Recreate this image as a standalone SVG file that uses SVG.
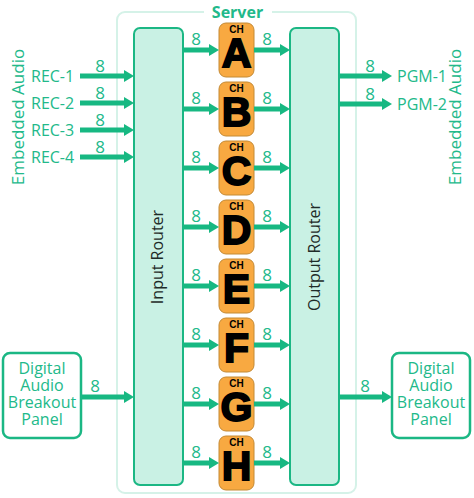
<svg xmlns="http://www.w3.org/2000/svg" width="474" height="498" viewBox="0 0 474 498">
<defs>
<marker id="ah" viewBox="0 0 10 12" refX="0" refY="6" markerWidth="10" markerHeight="12" markerUnits="userSpaceOnUse" orient="auto">
<path d="M0,0 L10,6 L0,12 z" fill="#17b882"/>
</marker>
<style>
.t{font-family:"Open Sans","Noto Sans",sans-serif;fill:#22b98a;}
.n{font-size:17px;text-anchor:middle;}
.lbl{font-size:16px;}
.rl{font-family:"Open Sans","Noto Sans",sans-serif;font-size:16px;text-anchor:middle;fill:#1e2b28;}
.router{fill:#c9f1e4;stroke:#1bb784;stroke-width:2;}
.panel{fill:#fff;stroke:#1bb784;stroke-width:2.5;}
.ch{fill:#f8a941;stroke:#c48a35;stroke-width:1;}
.chs{font-family:"Liberation Sans",Arial,sans-serif;font-weight:bold;font-size:10px;text-anchor:middle;fill:#000;}
.chl{font-family:"Liberation Sans",Arial,sans-serif;font-weight:bold;font-size:41px;text-anchor:middle;fill:#000;stroke:#000;stroke-width:1.8;}
.ar{stroke:#17b882;stroke-width:5;fill:none;marker-end:url(#ah);}
</style>
</defs>
<rect width="474" height="498" fill="#fff"/>
<g id="server">
<rect x="117" y="12" width="239" height="481" rx="8" fill="none" stroke="#d5f2e8" stroke-width="2"/>
<rect x="204" y="4" width="68" height="16" fill="#fff"/>
<text x="237.5" y="18" class="t" style="font-size:16px;font-weight:bold;text-anchor:middle">Server</text>
</g>
<g id="input-router">
<rect x="134" y="28" width="49" height="457" rx="6" class="router"/>
<text class="rl" transform="translate(163,257) rotate(-90)">Input Router</text>
</g>
<g id="output-router">
<rect x="290" y="28" width="49" height="457" rx="6" class="router"/>
<text class="rl" transform="translate(320,257) rotate(-90)">Output Router</text>
</g>
<g id="ch-a"><rect x="219" y="23" width="35" height="54" rx="7" class="ch"/><text x="236.5" y="33" class="chs">CH</text><text x="236.5" y="67" class="chl">A</text></g>
<g id="ch-b"><rect x="219" y="82" width="35" height="54" rx="7" class="ch"/><text x="236.5" y="92" class="chs">CH</text><text x="236.5" y="126" class="chl">B</text></g>
<g id="ch-c"><rect x="219" y="141" width="35" height="54" rx="7" class="ch"/><text x="236.5" y="151" class="chs">CH</text><text x="236.5" y="185" class="chl">C</text></g>
<g id="ch-d"><rect x="219" y="200" width="35" height="54" rx="7" class="ch"/><text x="236.5" y="210" class="chs">CH</text><text x="236.5" y="244" class="chl">D</text></g>
<g id="ch-e"><rect x="219" y="259" width="35" height="54" rx="7" class="ch"/><text x="236.5" y="269" class="chs">CH</text><text x="236.5" y="303" class="chl">E</text></g>
<g id="ch-f"><rect x="219" y="318" width="35" height="54" rx="7" class="ch"/><text x="236.5" y="328" class="chs">CH</text><text x="236.5" y="362" class="chl">F</text></g>
<g id="ch-g"><rect x="219" y="377" width="35" height="54" rx="7" class="ch"/><text x="236.5" y="387" class="chs">CH</text><text x="236.5" y="421" class="chl">G</text></g>
<g id="ch-h"><rect x="219" y="436" width="35" height="54" rx="7" class="ch"/><text x="236.5" y="446" class="chs">CH</text><text x="236.5" y="480" class="chl">H</text></g>
<g id="panel-in">
<rect x="3" y="353" width="78" height="85" rx="7" class="panel"/>
<text class="t lbl" text-anchor="middle"><tspan x="42" y="374">Digital</tspan><tspan x="42" y="391">Audio</tspan><tspan x="42" y="408">Breakout</tspan><tspan x="42" y="425">Panel</tspan></text>
</g>
<g id="panel-out">
<rect x="392" y="353" width="78" height="85" rx="7" class="panel"/>
<text class="t lbl" text-anchor="middle"><tspan x="431" y="374">Digital</tspan><tspan x="431" y="391">Audio</tspan><tspan x="431" y="408">Breakout</tspan><tspan x="431" y="425">Panel</tspan></text>
</g>
<g id="labels">
<text class="t" style="font-size:17px;text-anchor:middle" transform="translate(24,117) rotate(-90)">Embedded Audio</text>
<text class="t" style="font-size:17px;text-anchor:middle" transform="translate(461,117) rotate(-90)">Embedded Audio</text>
<text class="t lbl" x="31" y="82">REC-1</text>
<text class="t lbl" x="31" y="109">REC-2</text>
<text class="t lbl" x="31" y="136">REC-3</text>
<text class="t lbl" x="31" y="163">REC-4</text>
<text class="t lbl" x="397" y="82">PGM-1</text>
<text class="t lbl" x="397" y="110">PGM-2</text>
</g>
<g id="connectors">
<path class="ar" d="M80,76H124"/><path class="ar" d="M80,103H124"/><path class="ar" d="M80,130H124"/><path class="ar" d="M80,157H124"/>
<path class="ar" d="M339,76H382"/><path class="ar" d="M339,104H382"/>
<path class="ar" d="M82,397H124"/><path class="ar" d="M339,397H382"/>
<path class="ar" d="M183,50H209"/><path class="ar" d="M254,50H280"/>
<path class="ar" d="M183,109H209"/><path class="ar" d="M254,109H280"/>
<path class="ar" d="M183,168H209"/><path class="ar" d="M254,168H280"/>
<path class="ar" d="M183,227H209"/><path class="ar" d="M254,227H280"/>
<path class="ar" d="M183,286H209"/><path class="ar" d="M254,286H280"/>
<path class="ar" d="M183,345H209"/><path class="ar" d="M254,345H280"/>
<path class="ar" d="M183,404H209"/><path class="ar" d="M254,404H280"/>
<path class="ar" d="M183,463H209"/><path class="ar" d="M254,463H280"/>
<g class="t n">
<text x="100" y="72">8</text><text x="100" y="99">8</text><text x="100" y="126">8</text><text x="100" y="153">8</text>
<text x="370" y="72">8</text><text x="370" y="100">8</text>
<text x="95" y="392">8</text><text x="365" y="392">8</text>
<text x="196" y="45">8</text><text x="267" y="45">8</text>
<text x="196" y="104">8</text><text x="267" y="104">8</text>
<text x="196" y="163">8</text><text x="267" y="163">8</text>
<text x="196" y="222">8</text><text x="267" y="222">8</text>
<text x="196" y="281">8</text><text x="267" y="281">8</text>
<text x="196" y="340">8</text><text x="267" y="340">8</text>
<text x="196" y="399">8</text><text x="267" y="399">8</text>
<text x="196" y="458">8</text><text x="267" y="458">8</text>
</g>
</g>
</svg>
